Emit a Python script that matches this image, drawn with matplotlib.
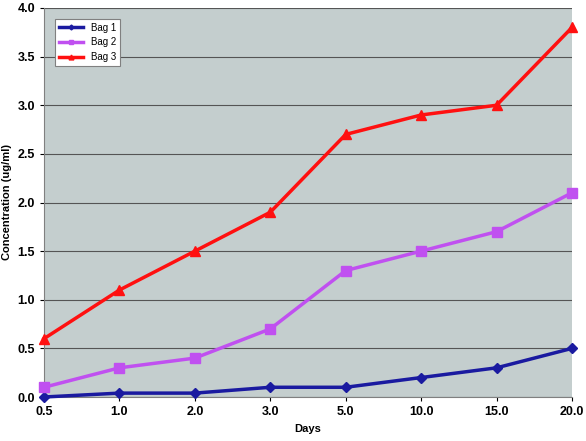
import matplotlib.pyplot as plt
import numpy as np

days = ["0.5", "1.0", "2.0", "3.0", "5.0", "10.0", "15.0", "20.0"]
bag1 = [0.0, 0.04, 0.04, 0.1, 0.1, 0.2, 0.3, 0.5]
bag2 = [0.1, 0.3, 0.4, 0.7, 1.3, 1.5, 1.7, 2.1]
bag3 = [0.6, 1.1, 1.5, 1.9, 2.7, 2.9, 3.0, 3.8]

fig = plt.figure(figsize=(5.86, 4.41), dpi=100)
ax = fig.add_axes([44 / 586, 1 - 397 / 441, (572 - 44) / 586, (397 - 8) / 441])
ax.set_facecolor("#c4cece")

x = np.arange(len(days))
ax.plot(x, bag1, color="#1a1aa0", marker="D", markersize=5, linewidth=2.5, label="Bag 1", clip_on=False, zorder=3)
ax.plot(x, bag2, color="#c050f0", marker="s", markersize=7, linewidth=2.5, label="Bag 2", clip_on=False, zorder=3)
ax.plot(x, bag3, color="#ff1010", marker="^", markersize=7, linewidth=2.5, label="Bag 3", clip_on=False, zorder=3)

ax.set_xlim(0, len(days) - 1)
ax.set_ylim(0, 4.0)
ax.set_xticks(x)
ax.set_xticklabels(days)
ax.set_yticks(np.arange(0, 4.01, 0.5))
ax.set_yticklabels([f"{v:.1f}" for v in np.arange(0, 4.01, 0.5)])
ax.grid(axis="y", color="#555555", linewidth=0.8)
ax.set_axisbelow(True)
for s in ["top", "right"]:
    ax.spines[s].set_visible(False)
for s in ["left", "bottom"]:
    ax.spines[s].set_color("#808080")
ax.tick_params(labelsize=9, length=3, colors="black")
for lbl in ax.get_xticklabels() + ax.get_yticklabels():
    lbl.set_fontweight("bold")
    lbl.set_family("Liberation Sans")

ax.set_xlabel("Days", fontsize=8, fontweight="bold", family="Liberation Sans")
ax.set_ylabel("Concentration (ug/ml)", fontsize=8, fontweight="bold", family="Liberation Sans")

leg = ax.legend(loc="upper left", bbox_to_anchor=(0.012, 0.985), fancybox=False, framealpha=1,
                edgecolor="#808080", fontsize=7, handlelength=2.5, markerscale=0.5,
                borderpad=0.4, labelspacing=0.5, prop={"family": "Liberation Sans", "size": 7})
leg.get_frame().set_linewidth(0.8)

fig.savefig("out.png", dpi=100)
